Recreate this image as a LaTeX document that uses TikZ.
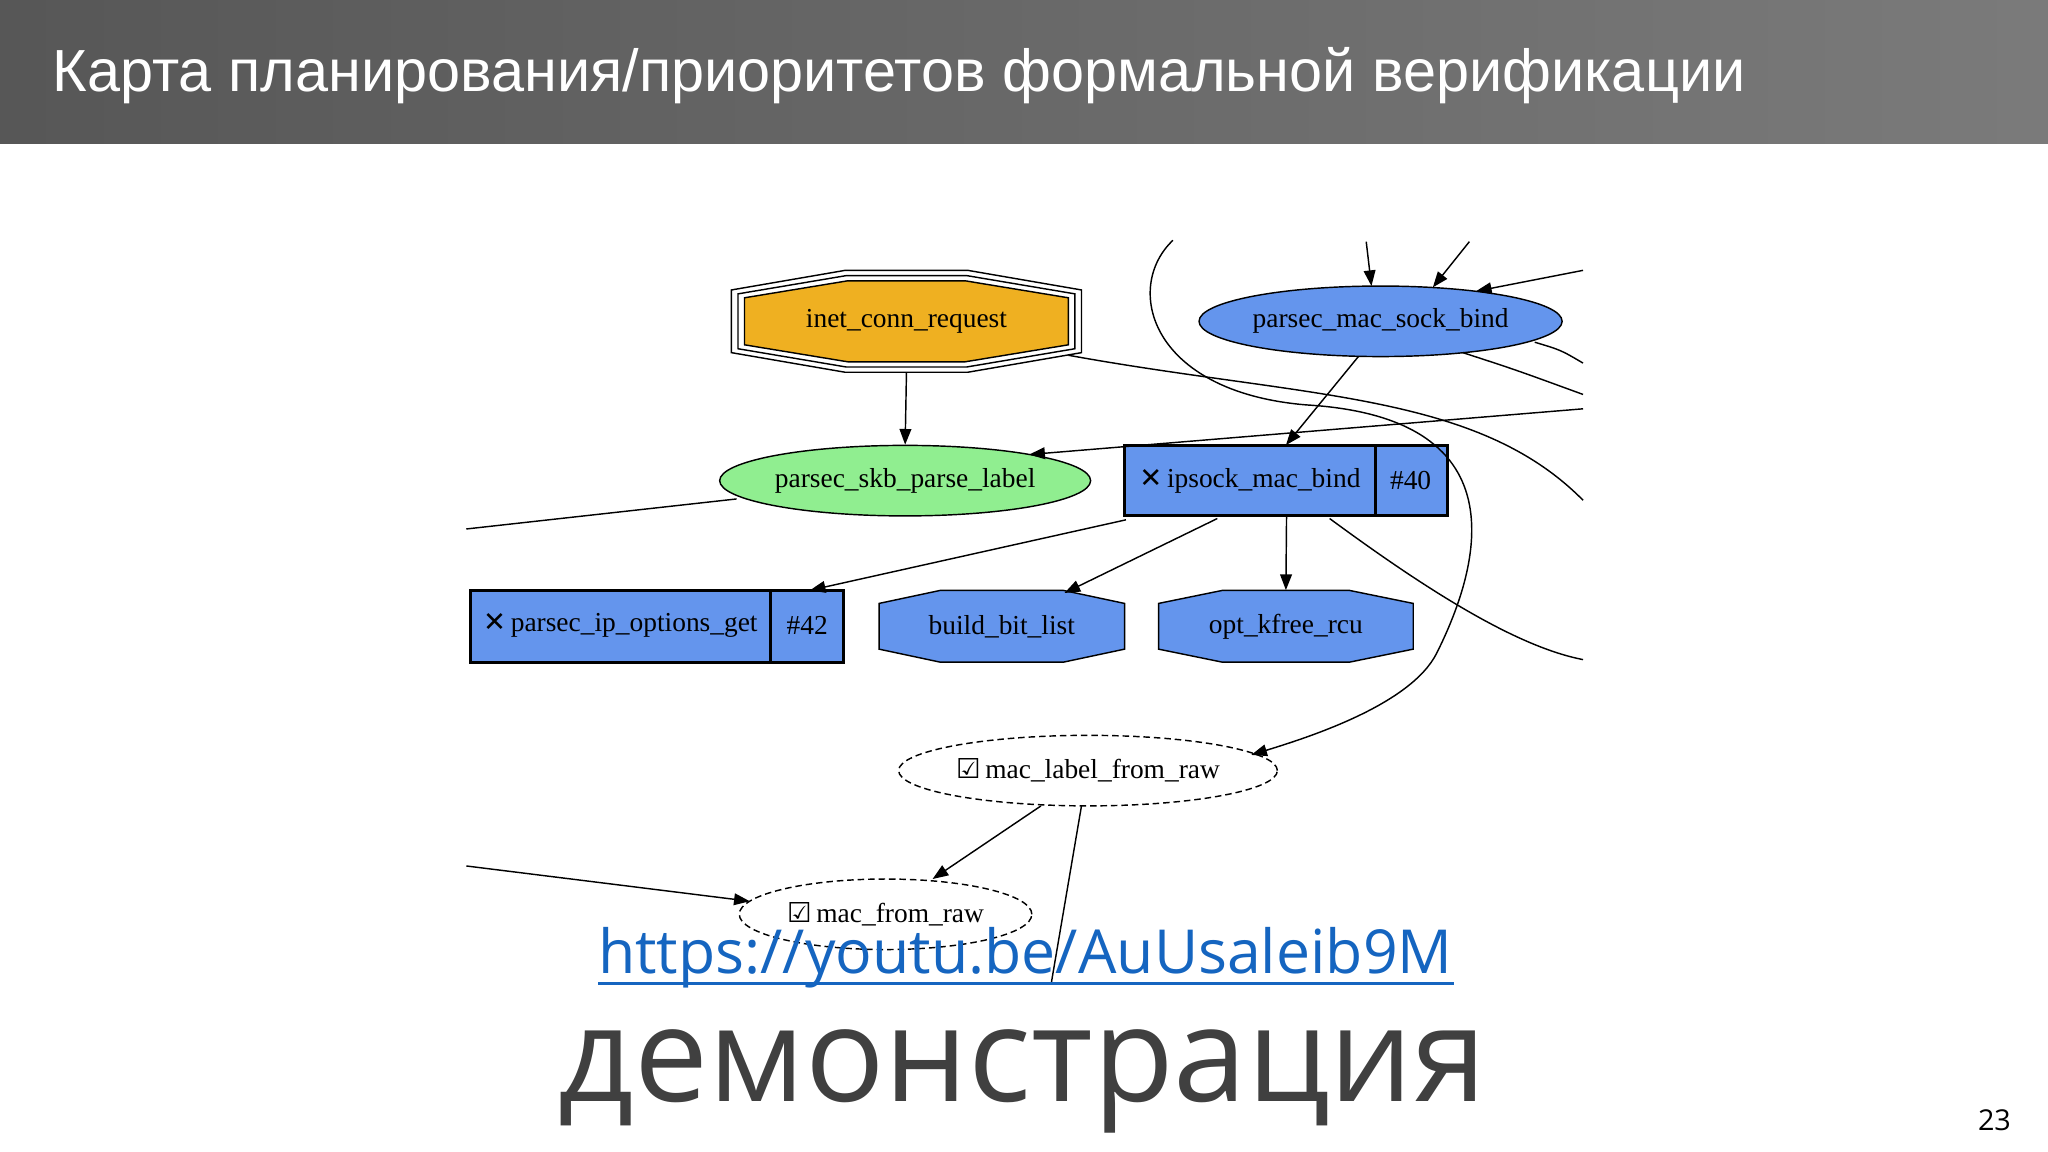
\documentclass[tikz,border=0pt]{standalone}
\usepackage{fontspec}
\setmainfont{Liberation Serif}
\newfontfamily\hdr{Liberation Sans}
\newfontfamily\osans{Open Sans}
\newfontfamily\dv{DejaVu Sans}
\usetikzlibrary{arrows.meta,shapes.geometric}
\definecolor{cblue}{HTML}{6495ED}
\definecolor{orng}{HTML}{EFB021}
\definecolor{lgreen}{HTML}{90EE90}
\definecolor{urlblue}{HTML}{1565C0}
\begin{document}
\begin{tikzpicture}[x=1pt,y=-1pt,
  edge/.style={line width=1.1pt,-{Triangle[length=12pt,width=9pt]}},
  pl/.style={line width=1.1pt},
  lbl/.style={font=\fontsize{21}{21}\selectfont},
  el/.style={ellipse,draw,line width=1.1pt,lbl,inner sep=0pt},
  dsh/.style={dash pattern=on 5pt off 3pt},
  hid/.style={inner sep=0pt,lbl}]
\useasboundingbox (0,0) rectangle (1568,882);
\fill[white] (0,0) rectangle (1568,882);
\shade[left color=black!66,right color=black!52] (0,0) rectangle (1568,110);
\node[anchor=base west,text=white,font=\hdr\fontsize{45.5}{45.5}\selectfont] (title) at (37,70) {Карта планирования/приоритетов формальной верификации};
% inet_conn_request
\draw[line width=1.1pt] (560,222)--(647,207)--(741,207)--(828,222)--(828,270)--(741,285)--(647,285)--(560,270)--cycle;
\draw[line width=1.1pt] (565,225)--(648,211)--(740,211)--(823,225)--(823,267)--(740,281)--(648,281)--(565,267)--cycle;
\draw[line width=1.1pt,fill=orng] (570,228)--(649,215)--(739,215)--(818,228)--(818,264)--(739,277)--(649,277)--(570,264)--cycle;
\node[hid,minimum width=268pt,minimum height=78pt] (inet) at (694,246) {inet\_conn\_request};
% ellipses
\node[el,fill=cblue,minimum width=278pt,minimum height=54pt] (msb) at (1057,246) {parsec\_mac\_sock\_bind};
\node[el,fill=lgreen,minimum width=284pt,minimum height=54pt] (skb) at (693,368) {parsec\_skb\_parse\_label};
% records
\draw[line width=2.2pt,fill=cblue] (861,341) rectangle (1108,395); \draw[line width=2.2pt] (1053,341)--(1053,395);
\node[hid,minimum width=247pt,minimum height=54pt] (ipsock) at (984.5,368) {};
\node[hid] at (957,368) {{\dv ✕}\,ipsock\_mac\_bind};
\node[hid] at (1080,368) {\#40};
\draw[line width=2.2pt,fill=cblue] (360,452) rectangle (646,507); \draw[line width=2.2pt] (590,452)--(590,507);
\node[hid,minimum width=286pt,minimum height=55pt] (ipopt) at (503,479.5) {};
\node[hid] at (475,479) {{\dv ✕}\,parsec\_ip\_options\_get};
\node[hid] at (618,479) {\#42};
% octagons
\draw[line width=1.1pt,fill=cblue] (673,462)--(720,452)--(814,452)--(861,462)--(861,497)--(814,507)--(720,507)--(673,497)--cycle;
\node[hid,minimum width=188pt,minimum height=55pt] (bbl) at (767,479.5) {build\_bit\_list};
\draw[line width=1.1pt,fill=cblue] (887,462)--(936,452)--(1033,452)--(1082,462)--(1082,497)--(1033,507)--(936,507)--(887,497)--cycle;
\node[hid,minimum width=195pt,minimum height=55pt] (okr) at (984.5,479.5) {opt\_kfree\_rcu};
% dashed
\node[el,dsh,minimum width=290pt,minimum height=54pt] (mlfr) at (833,590) {{\dv ☑}\,mac\_label\_from\_raw};
\node[el,dsh,minimum width=224pt,minimum height=54pt] (mfr) at (678,700) {{\dv ☑}\,mac\_from\_raw};
% coordinates
\coordinate (t1) at (1046,185); \coordinate (t2) at (1125,185); \coordinate (t3) at (1212,207);
\coordinate (r1) at (1212,278); \coordinate (r2) at (1212,302); \coordinate (r3) at (1212,383);
\coordinate (r4) at (1212,313); \coordinate (r5) at (1212,505);
\coordinate (l1) at (357,405); \coordinate (l2) at (357,663);
\coordinate (b1) at (805,752); \coordinate (top) at (898,184);
% edges
\draw[edge] (inet.south) -- (skb.north);
\draw[edge] (1040,273) -- (ipsock.north);
\draw[edge] (t1) -- (1050,219);
\draw[edge] (t2) -- (1097,220);
\draw[edge] (t3) -- (1130,223);
\draw[pl] (1175,262) .. controls (1195,268) .. (r1);
\draw[pl] (1120,270) .. controls (1160,283) .. (r2);
\draw[pl] (818,272) .. controls (1000,305) and (1130,300) .. (r3);
\draw[edge] (r4) -- (788,348);
\draw[pl] (564,382) -- (l1);
\draw[edge] (862,398) -- (620,452);
\draw[edge] (932,397) -- (815,454);
\draw[edge] (985,396) -- (okr.north);
\draw[pl] (1018,397) .. controls (1090,450) and (1160,495) .. (r5);
\draw[edge] (top) .. controls (860,220) and (880,300) .. (1000,310) .. controls (1170,320) and (1130,440) .. (1100,500) .. controls (1080,540) and (1000,565) .. (958,578);
\draw[edge] (797,617) -- (714,673);
\draw[pl] (828,617) -- (b1);
\draw[edge] (l2) -- (574,690);
% texts
\node[text=urlblue,font=\osans\fontsize{46.5}{46.5}\selectfont] (url) at (785,733) {https://youtu.be/AuUsaleib9M};
\draw[urlblue,line width=2.2pt] (458,753) -- (1113,753);
\node[text=black!75,font=\osans\fontsize{101}{101}\selectfont] (demo) at (783,828) {демонстрация};
\node[font=\osans\fontsize{22}{22}\selectfont] (pg) at (1527,858) {23};
\end{tikzpicture}
\end{document}
